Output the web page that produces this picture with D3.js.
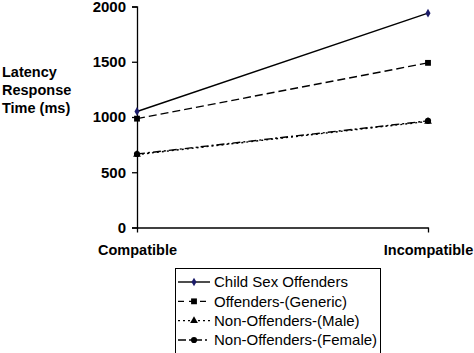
<!DOCTYPE html>
<html>
<head>
<meta charset="utf-8">
<script src="https://cdn.jsdelivr.net/npm/d3@7"></script>
<style>
  body { margin: 0; background: #fff; }
  svg { display: block; font-family: Arial, "Liberation Sans", sans-serif; }
</style>
</head>
<body>
<div id="chart"></div>
<script>
// data
const conditions = ["Compatible", "Incompatible"];
const groups = ["Child Sex Offenders", "Offenders-(Generic)", "Non-Offenders-(Male)", "Non-Offenders-(Female)"];
const childSexOffenders = [1050, 1940];
const offendersGeneric = [985, 1490];
const nonOffendersMale = [660, 960];
const nonOffendersFemale = [665, 965];
const yTicks = [0, 500, 1000, 1500, 2000];

const seriesValues = [childSexOffenders, offendersGeneric, nonOffendersMale, nonOffendersFemale];
const styles = [
  { dash: null, marker: d3.symbolDiamond, size: 22, color: "#1c1c6a" },
  { dash: "8,4", marker: d3.symbolSquare, size: 34, color: "#000" },
  { dash: "2,3", marker: d3.symbolTriangle, size: 26, color: "#000" },
  { dash: "8,3,2,3", marker: d3.symbolCircle, size: 30, color: "#000" }
];

const width = 474, height = 353;
const svg = d3.select("#chart").append("svg")
  .attr("width", width)
  .attr("height", height);

const x = d3.scalePoint().domain(conditions).range([137, 428]);
const y = d3.scaleLinear().domain([0, 2000]).range([227.5, 6.5]);

// y axis
svg.append("g")
  .attr("transform", "translate(137,0)")
  .call(d3.axisLeft(y).tickValues(yTicks).tickFormat(d3.format("d")).tickSize(5).tickPadding(6))
  .call(g => g.selectAll("path, line").attr("stroke", "#000").attr("stroke-width", 1.3))
  .call(g => g.selectAll("text").attr("font-size", 15).attr("font-weight", "bold").attr("fill", "#000"));

// x axis
svg.append("g")
  .attr("transform", "translate(0," + y(0) + ")")
  .call(d3.axisBottom(x).tickSize(5).tickPadding(12).tickSizeOuter(0))
  .call(g => g.select(".domain").attr("stroke", "#000").attr("stroke-width", 1.3))
  .call(g => g.selectAll("line").attr("stroke", "#000").attr("stroke-width", 1.3))
  .call(g => g.selectAll("text").attr("font-size", 14.5).attr("font-weight", "bold").attr("fill", "#000"));

// y title
svg.append("text")
  .attr("x", 2).attr("y", 77)
  .attr("font-size", 14.5).attr("font-weight", "bold")
  .selectAll("tspan")
  .data(["Latency", "Response", "Time (ms)"])
  .join("tspan")
  .attr("x", 2)
  .attr("dy", (d, i) => i === 0 ? 0 : 18)
  .text(d => d);

const line = d3.line()
  .x((d, i) => x(conditions[i]))
  .y(d => y(d));

seriesValues.forEach((vals, k) => {
  const s = styles[k];
  svg.append("path")
    .datum(vals)
    .attr("d", line)
    .attr("fill", "none")
    .attr("stroke", "#000")
    .attr("stroke-width", 1.4)
    .attr("stroke-dasharray", s.dash);
  svg.selectAll(null)
    .data(vals)
    .join("path")
    .attr("transform", (d, i) => "translate(" + x(conditions[i]) + "," + y(d) + ")")
    .attr("d", d3.symbol(s.marker, s.size))
    .attr("fill", s.color);
});

// legend
const legend = svg.append("g");
legend.append("rect")
  .attr("x", 175.5).attr("y", 268.5)
  .attr("width", 205).attr("height", 90)
  .attr("fill", "#fff").attr("stroke", "#000").attr("stroke-width", 1);

const rowY = d3.scalePoint().domain(groups).range([282, 340]);
groups.forEach((name, k) => {
  const s = styles[k];
  const yy = rowY(name);
  legend.append("line")
    .attr("x1", 178).attr("x2", 210)
    .attr("y1", yy).attr("y2", yy)
    .attr("stroke", "#000").attr("stroke-width", 1.4)
    .attr("stroke-dasharray", s.dash ? (k === 1 ? "6,5" : s.dash) : null);
  legend.append("path")
    .attr("transform", "translate(194," + yy + ")")
    .attr("d", d3.symbol(s.marker, s.size))
    .attr("fill", s.color);
  legend.append("text")
    .attr("x", 214).attr("y", yy)
    .attr("dy", "0.36em")
    .attr("font-size", 15)
    .attr("fill", "#000")
    .text(name);
});
</script>
</body>
</html>
